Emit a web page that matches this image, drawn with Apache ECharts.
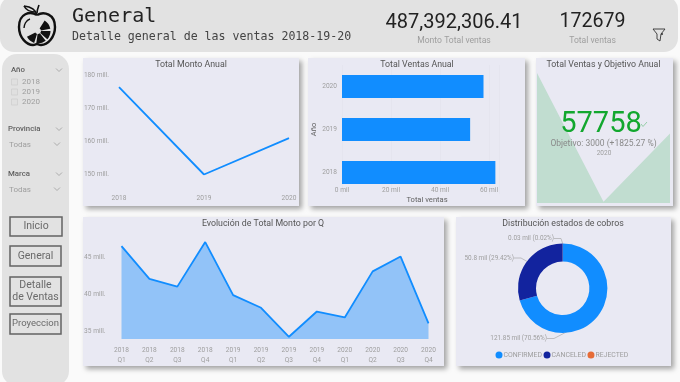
<!DOCTYPE html>
<html>
<head>
<meta charset="utf-8">
<style>
  html, body { margin: 0; padding: 0; background: #fafafa; }
  #main { width: 680px; height: 382px; }
</style>
<script src="https://cdn.jsdelivr.net/npm/echarts@6/dist/echarts.min.js"></script>
</head>
<body>
<div id="main"></div>
<script>
// datos
const years = ["2018", "2019", "2020"];
const montoAnual = [176.5, 150, 161];
const ventasAnual = [62.6, 52.3, 57.758];
const quarters = ["2018\nQ1", "2018\nQ2", "2018\nQ3", "2018\nQ4", "2019\nQ1", "2019\nQ2", "2019\nQ3", "2019\nQ4", "2020\nQ1", "2020\nQ2", "2020\nQ3", "2020\nQ4"];
const montoQ = [46.5, 42.1, 41.05, 47.05, 39.9, 38.2, 34.3, 37.7, 36.9, 43.1, 45.1, 36.1];
const estados = ["CONFIRMED", "CANCELED", "REJECTED"];
const estadosValores = [121.85, 50.8, 0.03];
const estadosTexto = ["121.85 mil (70.56%)", "50.8 mil (29.42%)", "0.03 mil (0.02%)"];
const estadosColores = ["#118dff", "#12239e", "#e66c37"];

const sans = "Roboto, sans-serif";
const mono = "'DejaVu Sans Mono', monospace";
const gris = "#9e9e9e";
const grisOscuro = "#5f5f5f";
const azul = "#118dff";

function panel(x, y, w, h) {
  return {
    type: "rect",
    shape: { x: x, y: y, width: w, height: h },
    style: { fill: "#e9e9f3", shadowBlur: 5, shadowOffsetX: 3, shadowOffsetY: 3, shadowColor: "rgba(0,0,0,0.35)" },
  };
}
function texto(x, y, text, size, color, align, weight, family) {
  return {
    type: "text",
    x: x,
    y: y,
    z: 100,
    style: {
      text: text,
      fontSize: size,
      fontFamily: family || sans,
      fontWeight: weight || "normal",
      fill: color,
      align: align || "left",
      verticalAlign: "middle",
    },
  };
}
function chevron(x, y) {
  return {
    type: "polyline",
    shape: { points: [[x - 3, y - 1.5], [x, y + 1.5], [x + 3, y - 1.5]] },
    style: { stroke: "#9d9d9d", lineWidth: 0.8, fill: null },
  };
}
function checkbox(y) {
  return {
    type: "rect",
    shape: { x: 11.5, y: y - 3, width: 6, height: 6 },
    style: { fill: "#e0e0e0", stroke: "#cfcfcf", lineWidth: 0.8 },
  };
}
function boton(x, y, w, h, lineas, size) {
  let items = [{
    type: "rect",
    shape: { x: x, y: y, width: w, height: h },
    style: { fill: "#e2e2e2", stroke: "#636363", lineWidth: 1.5 },
  }];
  lineas.forEach(function (l, i) {
    let cy = y + h / 2 + (i - (lineas.length - 1) / 2) * 12.5;
    items.push(texto(x + w / 2, cy, l, size || 10.5, "#6a6a6a", "center"));
  });
  return items;
}
function gajo(a0, a1) {
  return {
    type: "sector",
    shape: { cx: 38, cy: 31, r0: 3, r: 12.5, startAngle: a0 * Math.PI / 180, endAngle: a1 * Math.PI / 180 },
    style: { fill: "#111" },
  };
}
function curva(p, ancho) {
  return {
    type: "bezierCurve",
    shape: { x1: p[0], y1: p[1], cpx1: p[2], cpy1: p[3], cpx2: p[4], cpy2: p[5], x2: p[6], y2: p[7] },
    style: { fill: "none", stroke: "#111", lineWidth: ancho },
  };
}

const elements = [
  // cabecera y barra lateral
  { type: "rect", shape: { x: 0, y: -4, width: 678, height: 56, r: 14 }, style: { fill: "#e2e2e2" } },
  { type: "rect", shape: { x: 2, y: 54, width: 67, height: 332, r: 15 }, style: { fill: "#e2e2e2" } },
  panel(83, 58, 216, 148),
  panel(308, 58, 217, 148),
  panel(536, 58, 137, 148),
  panel(83, 217, 361, 149),
  panel(456, 217, 215, 149),

  // manzana
  curva([37, 15, 30, 11, 19, 13, 19, 27], 2.4),
  curva([19, 27, 19, 38, 27, 45, 33, 45], 2.4),
  curva([33, 45, 35, 45, 36, 44, 37, 44], 2.4),
  curva([37, 44, 38, 44, 39, 45, 41, 45], 2.4),
  curva([41, 45, 48, 45, 55, 37, 55, 27], 2.4),
  curva([55, 27, 55, 14, 44, 11, 37, 15], 2.4),
  curva([24, 28, 24, 25, 26, 20, 30, 19], 1.4),
  curva([37, 15, 36, 11, 33, 7, 24, 6], 1.6),
  curva([24, 6, 26, 10, 31, 12, 36, 12], 1.6),
  curva([37, 13, 37, 10, 38, 8, 39, 5], 1.6),
  gajo(-58, -10),
  gajo(0, 42),
  gajo(52, 98),
  gajo(108, 152),

  // icono de filtro
  { type: "polyline", shape: { points: [[653, 29], [665, 29], [661, 34], [660, 41], [657, 39], [657, 34], [653, 29]] }, style: { stroke: "#333", lineWidth: 0.9, fill: "none" } },
  { type: "circle", shape: { cx: 662, cy: 34, r: 1 }, style: { fill: "#333" } },

  // filtros
  texto(11, 70, "Año", 7.8, grisOscuro, "left", 500),
  chevron(59, 70),
  checkbox(82), checkbox(92), checkbox(102),
  texto(22, 82, years[0], 8, gris),
  texto(22, 92, years[1], 8, gris),
  texto(22, 102, years[2], 8, gris),
  texto(8, 129, "Provincia", 7.8, grisOscuro, "left", 500),
  chevron(59, 129),
  texto(9, 145, "Todas", 8, gris),
  chevron(57, 144),
  texto(8, 174, "Marca", 7.8, grisOscuro, "left", 500),
  chevron(59, 174),
  texto(9, 190, "Todas", 8, gris),
  chevron(57, 189),
].concat(
  boton(10, 217, 52, 19, ["Inicio"]),
  boton(10, 246, 51, 20, ["General"]),
  boton(10, 277, 51, 29, ["Detalle", "de Ventas"]),
  boton(10, 314, 51, 20, ["Proyeccion"], 9.5),
  [
    // textos de cabecera
    texto(72, 16.5, "General", 20, "#222", "left", "normal", mono),
    texto(72, 37, "Detalle general de las ventas 2018-19-20", 11.6, "#444", "left", "normal", mono),
    texto(454, 22.5, "487,392,306.41", 20, "#222", "center"),
    texto(592.5, 22.5, "172679", 19.6, "#222", "center"),
    texto(454, 41, "Monto Total ventas", 8.6, gris, "center"),
    texto(592.5, 41, "Total ventas", 8.6, gris, "center"),

    // tarjeta KPI
    texto(601, 125, "57758", 29, "#12a72e", "center"),
    { type: "polyline", z: 100, shape: { points: [[641, 124], [643, 126.5], [647, 122]] }, style: { stroke: "#7fc793", lineWidth: 0.8, fill: "none" } },
    texto(603.5, 144, "Objetivo: 3000 (+1825.27 %)", 8.5, "#8a8a8a", "center"),
    texto(604, 153.5, "2020", 6.5, gris, "center"),
    texto(427, 200, "Total ventas", 7.6, grisOscuro, "center"),
  ]
);

function titulo(text, x, y) {
  return {
    text: text,
    left: x,
    top: y,
    textAlign: "center",
    padding: 0,
    textStyle: { fontFamily: sans, fontSize: 8.8, fontWeight: "normal", color: "#555" },
  };
}
const etiqueta = { fontFamily: sans, fontSize: 6.6, color: gris };

const option = {
  animation: false,
  backgroundColor: "#fafafa",
  textStyle: { fontFamily: sans },
  title: [
    titulo("Total Monto Anual", 191, 60),
    titulo("Total Ventas Anual", 417, 60),
    titulo("Total Ventas y Objetivo Anual", 603.5, 60),
    titulo("Evolución de Total Monto por Q", 263, 219),
    titulo("Distribución estados de cobros", 563, 219),
  ],
  graphic: { elements: elements },
  grid: [
    { left: 119, right: 391, top: 75.5, height: 99 },
    { left: 342, width: 156.8, top: 65, height: 129 },
    { left: 537, width: 133, top: 73, height: 130 },
    { left: 121.5, width: 307, top: 235, height: 104 },
  ],
  xAxis: [
    {
      gridIndex: 0, type: "category", data: years, boundaryGap: false,
      axisLine: { show: false }, axisTick: { show: false },
      axisLabel: Object.assign({ margin: 20, showMinLabel: true, showMaxLabel: true, interval: 0 }, etiqueta),
    },
    {
      gridIndex: 1, type: "value", min: 0, max: 64, interval: 20,
      axisLine: { show: false }, axisTick: { show: false },
      axisLabel: Object.assign({ margin: -7.5, showMaxLabel: false, formatter: "{value} mil" }, etiqueta),
      splitLine: { lineStyle: { color: "#e2e2ec", width: 0.6 } },
    },
    { gridIndex: 2, type: "category", data: years, boundaryGap: false, show: false },
    {
      gridIndex: 3, type: "category", data: quarters, boundaryGap: false,
      axisLine: { show: false }, axisTick: { show: false },
      axisLabel: Object.assign({ margin: 6, interval: 0, lineHeight: 10 }, etiqueta),
    },
  ],
  yAxis: [
    {
      gridIndex: 0, type: "value", min: 150, max: 180, interval: 10,
      axisLine: { show: false }, axisTick: { show: false }, splitLine: { show: false },
      axisLabel: Object.assign({ margin: 10, formatter: "{value} mill." }, etiqueta),
    },
    {
      gridIndex: 1, type: "category", data: years,
      name: "Año", nameLocation: "middle", nameGap: 19,
      nameTextStyle: { fontFamily: sans, fontSize: 7.6, color: grisOscuro },
      axisLine: { show: false }, axisTick: { show: false },
      axisLabel: Object.assign({ margin: 5 }, etiqueta),
    },
    { gridIndex: 2, type: "value", min: 52.2, max: 62.6, show: false },
    {
      gridIndex: 3, type: "value", min: 34, max: 48,
      axisLine: { show: false }, axisTick: { show: false }, splitLine: { show: false },
      axisLabel: Object.assign({ margin: 16, customValues: [35, 40, 45], formatter: "{value} mill." }, etiqueta),
    },
  ],
  legend: {
    data: estados,
    left: 495.5,
    top: 351.5,
    padding: 0,
    icon: "circle",
    itemWidth: 7,
    itemHeight: 7,
    itemGap: 1.5,
    textStyle: { fontFamily: sans, fontSize: 6.9, color: gris, padding: [0, 0, 0, -4] },
  },
  series: [
    {
      type: "line", xAxisIndex: 0, yAxisIndex: 0, data: montoAnual,
      symbol: "none", lineStyle: { color: azul, width: 1.8 },
    },
    {
      type: "bar", xAxisIndex: 1, yAxisIndex: 1, data: ventasAnual,
      barWidth: 23, itemStyle: { color: azul },
    },
    {
      type: "line", xAxisIndex: 2, yAxisIndex: 2, data: ventasAnual,
      symbol: "none", lineStyle: { width: 0 }, areaStyle: { color: "#c1ddd0", opacity: 1 }, z: 1,
    },
    {
      type: "line", xAxisIndex: 3, yAxisIndex: 3, data: montoQ,
      symbol: "none", lineStyle: { color: azul, width: 1.8 },
      areaStyle: { color: "#92c3f8", opacity: 1 },
    },
    {
      type: "pie",
      center: [562.7, 288.3],
      radius: [26.7, 44.7],
      startAngle: 90,
      clockwise: true,
      minAngle: 0,
      color: estadosColores,
      data: estados.map(function (n, i) {
        return { name: n, value: estadosValores[i] };
      }),
      label: {
        fontFamily: sans,
        fontSize: 6.4,
        color: gris,
        overflow: "none",
        formatter: function (p) {
          return estadosTexto[p.dataIndex];
        },
      },
      labelLine: { length: 5, length2: 7, lineStyle: { color: "#aaa", width: 0.7 } },
      labelLayout: function (p) {
        if (p.dataIndex === 0) return { x: 547, y: 338.5, align: "right", verticalAlign: "middle" };
        if (p.dataIndex === 1) return { x: 514, y: 258, align: "right", verticalAlign: "middle" };
        return { x: 554, y: 238.5, align: "right", verticalAlign: "middle" };
      },
    },
  ],
};

let myChart = echarts.init(document.getElementById("main"), null, { renderer: "canvas" });
myChart.setOption(option);
</script>
</body>
</html>
